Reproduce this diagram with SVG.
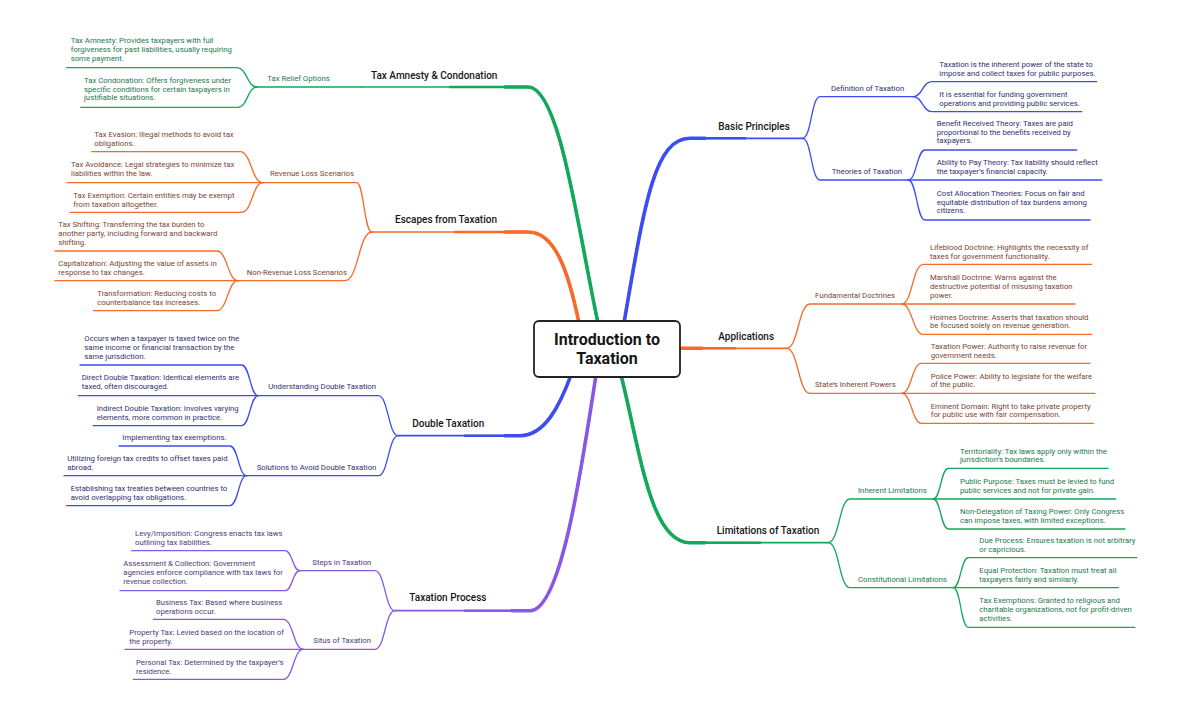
<svg xmlns="http://www.w3.org/2000/svg" width="1200" height="714" viewBox="0 0 1200 714">
<style>
text{font-family:Roboto,"Liberation Sans",Arial,sans-serif;}
.lf{font-size:7.75px;}
.sb{font-size:7.75px;}
.mt{font-size:10px;font-weight:500;fill:#161616;}
.ti{font-size:16px;font-weight:700;fill:#161616;}
.tg{fill:#23784c;} .to{fill:#7a4532;} .tb{fill:#2f2f70;} .tp{fill:#4c3a78;}
path{fill:none;stroke-linecap:round;}
.g{stroke:#14a85a;} .o{stroke:#f76a2a;} .b{stroke:#3d4ef0;} .p{stroke:#8a58e6;}
.w1{stroke-width:1.3;} .w2{stroke-width:1.7;} .w3{stroke-width:2.6;} .w4{stroke-width:3.6;}
</style>
<rect width="1200" height="714" fill="#ffffff"/>
<g id="connectors">
<path class="g w2" d="M362 87 H528 C560 87 578 230 598 323"/>
<path class="g w3" d="M450 87 H528 C560 87 578 230 598 323"/>
<path class="g w4" d="M505 87 H528 C560 87 578 230 598 323"/>
<path class="o w2" d="M372 232 H528 C555 232 568 270 579 323"/>
<path class="o w3" d="M455 232 H528 C555 232 568 270 579 323"/>
<path class="o w4" d="M505 232 H528 C555 232 568 270 579 323"/>
<path class="b w2" d="M398.3 435.7 H520 C545 435.7 560 405 571 375"/>
<path class="b w3" d="M465 435.7 H520 C545 435.7 560 405 571 375"/>
<path class="b w4" d="M505 435.7 H520 C545 435.7 560 405 571 375"/>
<path class="p w2" d="M395 610.7 H530 C560 610.7 580 480 596 375"/>
<path class="p w3" d="M465 610.7 H530 C560 610.7 580 480 596 375"/>
<path class="p w4" d="M512 610.7 H530 C560 610.7 580 480 596 375"/>
<path class="b w2" d="M624 323 C645 200 655 138.3 690 138.3 H802.7"/>
<path class="b w3" d="M624 323 C645 200 655 138.3 690 138.3 H745"/>
<path class="b w4" d="M624 323 C645 200 655 138.3 690 138.3 H705"/>
<path class="o w2" d="M678 348.3 H786.7"/>
<path class="o w3" d="M678 348.3 H735"/>
<path class="o w4" d="M678 348.3 H702"/>
<path class="g w2" d="M621 375 C640 450 650 542.7 690 542.7 H828.3"/>
<path class="g w3" d="M621 375 C640 450 650 542.7 690 542.7 H760"/>
<path class="g w4" d="M621 375 C640 450 650 542.7 690 542.7 H705"/>
<path class="g w1" d="M362 87 H257"/>
<path class="g w1" d="M257 87 C247 87 247 67.7 237 67.7 H66.7"/>
<path class="g w1" d="M257 87 C247.5 87 247.5 107.3 238 107.3 H80.7"/>
<path class="o w1" d="M372 232 C364 232 364 182.7 356.7 182.7 H263"/>
<path class="o w1" d="M263 182.7 C251.5 182.7 251.5 151.7 240 151.7 H91.7"/>
<path class="o w1" d="M263 182.7 H67"/>
<path class="o w1" d="M263 182.7 C252.3 182.7 252.3 212.3 241.7 212.3 H70"/>
<path class="o w1" d="M372 232 C358.5 232 358.5 280.7 345 280.7 H238.3"/>
<path class="o w1" d="M238.3 280.7 C227.5 280.7 227.5 251 216.7 251 H55"/>
<path class="o w1" d="M238.3 280.7 H55"/>
<path class="o w1" d="M238.3 280.7 C227.5 280.7 227.5 310.7 216.7 310.7 H93.3"/>
<path class="b w1" d="M398.3 435.7 C388.3 435.7 388.3 395.7 378.3 395.7 H258.3"/>
<path class="b w1" d="M258.3 395.7 C250 395.7 250 365 241.7 365 H80"/>
<path class="b w1" d="M258.3 395.7 H78.3"/>
<path class="b w1" d="M258.3 395.7 C250 395.7 250 425.7 241.7 425.7 H93.3"/>
<path class="b w1" d="M398.3 435.7 C388.3 435.7 388.3 475.7 378.3 475.7 H246.7"/>
<path class="b w1" d="M246.7 475.7 C238.3 475.7 238.3 446 230 446 H119"/>
<path class="b w1" d="M246.7 475.7 H64"/>
<path class="b w1" d="M246.7 475.7 C238.3 475.7 238.3 505.7 230 505.7 H66.7"/>
<path class="p w1" d="M395 610.7 C385 610.7 385 570.7 375 570.7 H300"/>
<path class="p w1" d="M300 570.7 C292.5 570.7 292.5 550.7 285 550.7 H131.7"/>
<path class="p w1" d="M300 570.7 C292.5 570.7 292.5 590.7 285 590.7 H120"/>
<path class="p w1" d="M395 610.7 C385 610.7 385 649.3 375 649.3 H303.3"/>
<path class="p w1" d="M303.3 649.3 C293.3 649.3 293.3 619.3 283.3 619.3 H153.3"/>
<path class="p w1" d="M303.3 649.3 H125"/>
<path class="p w1" d="M303.3 649.3 C293.3 649.3 293.3 679.3 283.3 679.3 H133.3"/>
<path class="b w1" d="M802.7 138.3 C811.3 138.3 811.3 96.7 820 96.7 H913.3"/>
<path class="b w1" d="M913.3 96.7 C922.5 96.7 922.5 81.7 931.7 81.7 H1096.7"/>
<path class="b w1" d="M913.3 96.7 C922.5 96.7 922.5 111.7 931.7 111.7 H1081.7"/>
<path class="b w1" d="M802.7 138.3 C811.3 138.3 811.3 180 820 180 H908.3"/>
<path class="b w1" d="M908.3 180 C916.7 180 916.7 150 925 150 H1076.7"/>
<path class="b w1" d="M908.3 180 H1101.7"/>
<path class="b w1" d="M908.3 180 C916.7 180 916.7 220 925 220 H1090"/>
<path class="o w1" d="M786.7 348.3 C798.3 348.3 798.3 304 810 304 H901.7"/>
<path class="o w1" d="M901.7 304 C912.5 304 912.5 264.3 923.3 264.3 H1091.7"/>
<path class="o w1" d="M901.7 304 H1075"/>
<path class="o w1" d="M901.7 304 C912.5 304 912.5 334.3 923.3 334.3 H1091.7"/>
<path class="o w1" d="M786.7 348.3 C798.3 348.3 798.3 393.3 810 393.3 H901.7"/>
<path class="o w1" d="M901.7 393.3 C911.7 393.3 911.7 363.3 921.7 363.3 H1090"/>
<path class="o w1" d="M901.7 393.3 H1095"/>
<path class="o w1" d="M901.7 393.3 C911.7 393.3 911.7 423.3 921.7 423.3 H1093.3"/>
<path class="g w1" d="M828.3 542.7 C839.2 542.7 839.2 499 850 499 H933.3"/>
<path class="g w1" d="M933.3 499 C940.8 499 940.8 468.3 948.3 468.3 H1108.3"/>
<path class="g w1" d="M933.3 499 H1115.7"/>
<path class="g w1" d="M933.3 499 C940.8 499 940.8 529 948.3 529 H1125"/>
<path class="g w1" d="M828.3 542.7 C839.2 542.7 839.2 587.7 850 587.7 H953.3"/>
<path class="g w1" d="M953.3 587.7 C960.8 587.7 960.8 557.7 968.3 557.7 H1136.7"/>
<path class="g w1" d="M953.3 587.7 H1118.3"/>
<path class="g w1" d="M953.3 587.7 C960.8 587.7 960.8 627.3 968.3 627.3 H1135"/>
</g>

<g id="root">
<rect x="534" y="321" width="146" height="56" rx="5" fill="#ffffff" stroke="#222222" stroke-width="1.8"/>
<text class="ti" x="607" y="345" text-anchor="middle">Introduction to</text>
<text class="ti" x="607" y="364" text-anchor="middle">Taxation</text>
</g>

<g id="amnesty"><text class="mt" x="371" y="78.5">Tax Amnesty &amp; Condonation</text></g>
<g id="relief"><text class="sb tg" x="267.3" y="81.1">Tax Relief Options</text></g>
<g id="amnesty-leaf" class="lf tg"><text x="70.7" y="43.1">Tax Amnesty: Provides taxpayers with full</text><text x="70.7" y="52.1">forgiveness for past liabilities, usually requiring</text><text x="70.7" y="60.9">some payment.</text></g>
<g id="condonation-leaf" class="lf tg"><text x="84" y="83.1">Tax Condonation: Offers forgiveness under</text><text x="84" y="91.6">specific conditions for certain taxpayers in</text><text x="84" y="100.2">justifiable situations.</text></g>

<g id="escapes"><text class="mt" x="395" y="222.8">Escapes from Taxation</text></g>
<g id="revenue-loss"><text class="sb to" x="270" y="176.1">Revenue Loss Scenarios</text></g>
<g id="evasion" class="lf to"><text x="94.3" y="136.8">Tax Evasion: Illegal methods to avoid tax</text><text x="94.3" y="145.8">obligations.</text></g>
<g id="avoidance" class="lf to"><text x="71" y="167.1">Tax Avoidance: Legal strategies to minimize tax</text><text x="71" y="176.1">liabilities within the law.</text></g>
<g id="exemption" class="lf to"><text x="73.3" y="197.5">Tax Exemption: Certain entities may be exempt</text><text x="73.3" y="206.5">from taxation altogether.</text></g>
<g id="non-revenue"><text class="sb to" x="246.7" y="274.5">Non-Revenue Loss Scenarios</text></g>
<g id="shifting" class="lf to"><text x="58.3" y="226.8">Tax Shifting: Transferring the tax burden to</text><text x="58.3" y="235.6">another party, including forward and backward</text><text x="58.3" y="244.5">shifting.</text></g>
<g id="capitalization" class="lf to"><text x="58.3" y="265.5">Capitalization: Adjusting the value of assets in</text><text x="58.3" y="274.5">response to tax changes.</text></g>
<g id="transformation" class="lf to"><text x="97.3" y="295.8">Transformation: Reducing costs to</text><text x="97.3" y="304.5">counterbalance tax increases.</text></g>

<g id="double"><text class="mt" x="412.3" y="426.8">Double Taxation</text></g>
<g id="understanding"><text class="sb tb" x="268.3" y="389.1">Understanding Double Taxation</text></g>
<g id="occurs" class="lf tb"><text x="84.3" y="340.5">Occurs when a taxpayer is taxed twice on the</text><text x="84.3" y="349.5">same income or financial transaction by the</text><text x="84.3" y="358.5">same jurisdiction.</text></g>
<g id="direct" class="lf tb"><text x="81.7" y="380.1">Direct Double Taxation: Identical elements are</text><text x="81.7" y="389.1">taxed, often discouraged.</text></g>
<g id="indirect" class="lf tb"><text x="96.7" y="410.5">Indirect Double Taxation: Involves varying</text><text x="96.7" y="419.5">elements, more common in practice.</text></g>
<g id="solutions"><text class="sb tb" x="256.7" y="469.5">Solutions to Avoid Double Taxation</text></g>
<g id="implementing" class="lf tb"><text x="122.3" y="439.8">Implementing tax exemptions.</text></g>
<g id="utilizing" class="lf tb"><text x="67.3" y="460.5">Utilizing foreign tax credits to offset taxes paid</text><text x="67.3" y="469.5">abroad.</text></g>
<g id="establishing" class="lf tb"><text x="70.7" y="491.1">Establishing tax treaties between countries to</text><text x="70.7" y="500.1">avoid overlapping tax obligations.</text></g>

<g id="process"><text class="mt" x="409.3" y="601.2">Taxation Process</text></g>
<g id="steps"><text class="sb tp" x="312.3" y="564.5">Steps in Taxation</text></g>
<g id="levy" class="lf tp"><text x="135" y="535.8">Levy/Imposition: Congress enacts tax laws</text><text x="135" y="544.8">outlining tax liabilities.</text></g>
<g id="assessment" class="lf tp"><text x="123.3" y="566.1">Assessment &amp; Collection: Government</text><text x="123.3" y="574.8">agencies enforce compliance with tax laws for</text><text x="123.3" y="583.5">revenue collection.</text></g>
<g id="situs"><text class="sb tp" x="313.3" y="643.1">Situs of Taxation</text></g>
<g id="business" class="lf tp"><text x="156" y="604.5">Business Tax: Based where business</text><text x="156" y="613.5">operations occur.</text></g>
<g id="property" class="lf tp"><text x="129.3" y="634.5">Property Tax: Levied based on the location of</text><text x="129.3" y="643.5">the property.</text></g>
<g id="personal" class="lf tp"><text x="136" y="664.5">Personal Tax: Determined by the taxpayer’s</text><text x="136" y="673.5">residence.</text></g>

<g id="basic"><text class="mt" x="718.3" y="129.8">Basic Principles</text></g>
<g id="definition"><text class="sb tb" x="831" y="90.5">Definition of Taxation</text></g>
<g id="def1" class="lf tb"><text x="939.3" y="66.8">Taxation is the inherent power of the state to</text><text x="939.3" y="75.8">impose and collect taxes for public purposes.</text></g>
<g id="def2" class="lf tb"><text x="939.3" y="96.8">It is essential for funding government</text><text x="939.3" y="105.5">operations and providing public services.</text></g>
<g id="theories"><text class="sb tb" x="831.7" y="173.8">Theories of Taxation</text></g>
<g id="benefit" class="lf tb"><text x="936.7" y="125.5">Benefit Received Theory: Taxes are paid</text><text x="936.7" y="134.5">proportional to the benefits received by</text><text x="936.7" y="143.1">taxpayers.</text></g>
<g id="ability" class="lf tb"><text x="936.7" y="165.1">Ability to Pay Theory: Tax liability should reflect</text><text x="936.7" y="174.1">the taxpayer’s financial capacity.</text></g>
<g id="cost" class="lf tb"><text x="936.7" y="195.5">Cost Allocation Theories: Focus on fair and</text><text x="936.7" y="204.5">equitable distribution of tax burdens among</text><text x="936.7" y="213.1">citizens.</text></g>

<g id="applications"><text class="mt" x="718.3" y="340.2">Applications</text></g>
<g id="fundamental"><text class="sb to" x="815" y="297.8">Fundamental Doctrines</text></g>
<g id="lifeblood" class="lf to"><text x="930" y="249.5">Lifeblood Doctrine: Highlights the necessity of</text><text x="930" y="258.5">taxes for government functionality.</text></g>
<g id="marshall" class="lf to"><text x="930" y="280.1">Marshall Doctrine: Warns against the</text><text x="930" y="288.8">destructive potential of misusing taxation</text><text x="930" y="297.5">power.</text></g>
<g id="holmes" class="lf to"><text x="930" y="319.5">Holmes Doctrine: Asserts that taxation should</text><text x="930" y="328.1">be focused solely on revenue generation.</text></g>
<g id="powers"><text class="sb to" x="815" y="387.1">State’s Inherent Powers</text></g>
<g id="taxation-power" class="lf to"><text x="930.7" y="348.5">Taxation Power: Authority to raise revenue for</text><text x="930.7" y="357.5">government needs.</text></g>
<g id="police" class="lf to"><text x="930.7" y="378.5">Police Power: Ability to legislate for the welfare</text><text x="930.7" y="387.1">of the public.</text></g>
<g id="eminent" class="lf to"><text x="930.7" y="408.5">Eminent Domain: Right to take private property</text><text x="930.7" y="417.1">for public use with fair compensation.</text></g>

<g id="limitations"><text class="mt" x="716.7" y="534.2">Limitations of Taxation</text></g>
<g id="inherent"><text class="sb tg" x="858" y="492.5">Inherent Limitations</text></g>
<g id="territoriality" class="lf tg"><text x="960" y="453.5">Territoriality: Tax laws apply only within the</text><text x="960" y="462.1">jurisdiction’s boundaries.</text></g>
<g id="public-purpose" class="lf tg"><text x="960" y="483.8">Public Purpose: Taxes must be levied to fund</text><text x="960" y="492.5">public services and not for private gain.</text></g>
<g id="non-delegation" class="lf tg"><text x="960" y="513.8">Non-Delegation of Taxing Power: Only Congress</text><text x="960" y="522.5">can impose taxes, with limited exceptions.</text></g>
<g id="constitutional"><text class="sb tg" x="858" y="581.8">Constitutional Limitations</text></g>
<g id="due-process" class="lf tg"><text x="979.3" y="542.8">Due Process: Ensures taxation is not arbitrary</text><text x="979.3" y="551.8">or capricious.</text></g>
<g id="equal" class="lf tg"><text x="979.3" y="572.8">Equal Protection: Taxation must treat all</text><text x="979.3" y="581.8">taxpayers fairly and similarly.</text></g>
<g id="tax-exemptions" class="lf tg"><text x="979.3" y="602.8">Tax Exemptions: Granted to religious and</text><text x="979.3" y="611.8">charitable organizations, not for profit-driven</text><text x="979.3" y="620.8">activities.</text></g>
</svg>
